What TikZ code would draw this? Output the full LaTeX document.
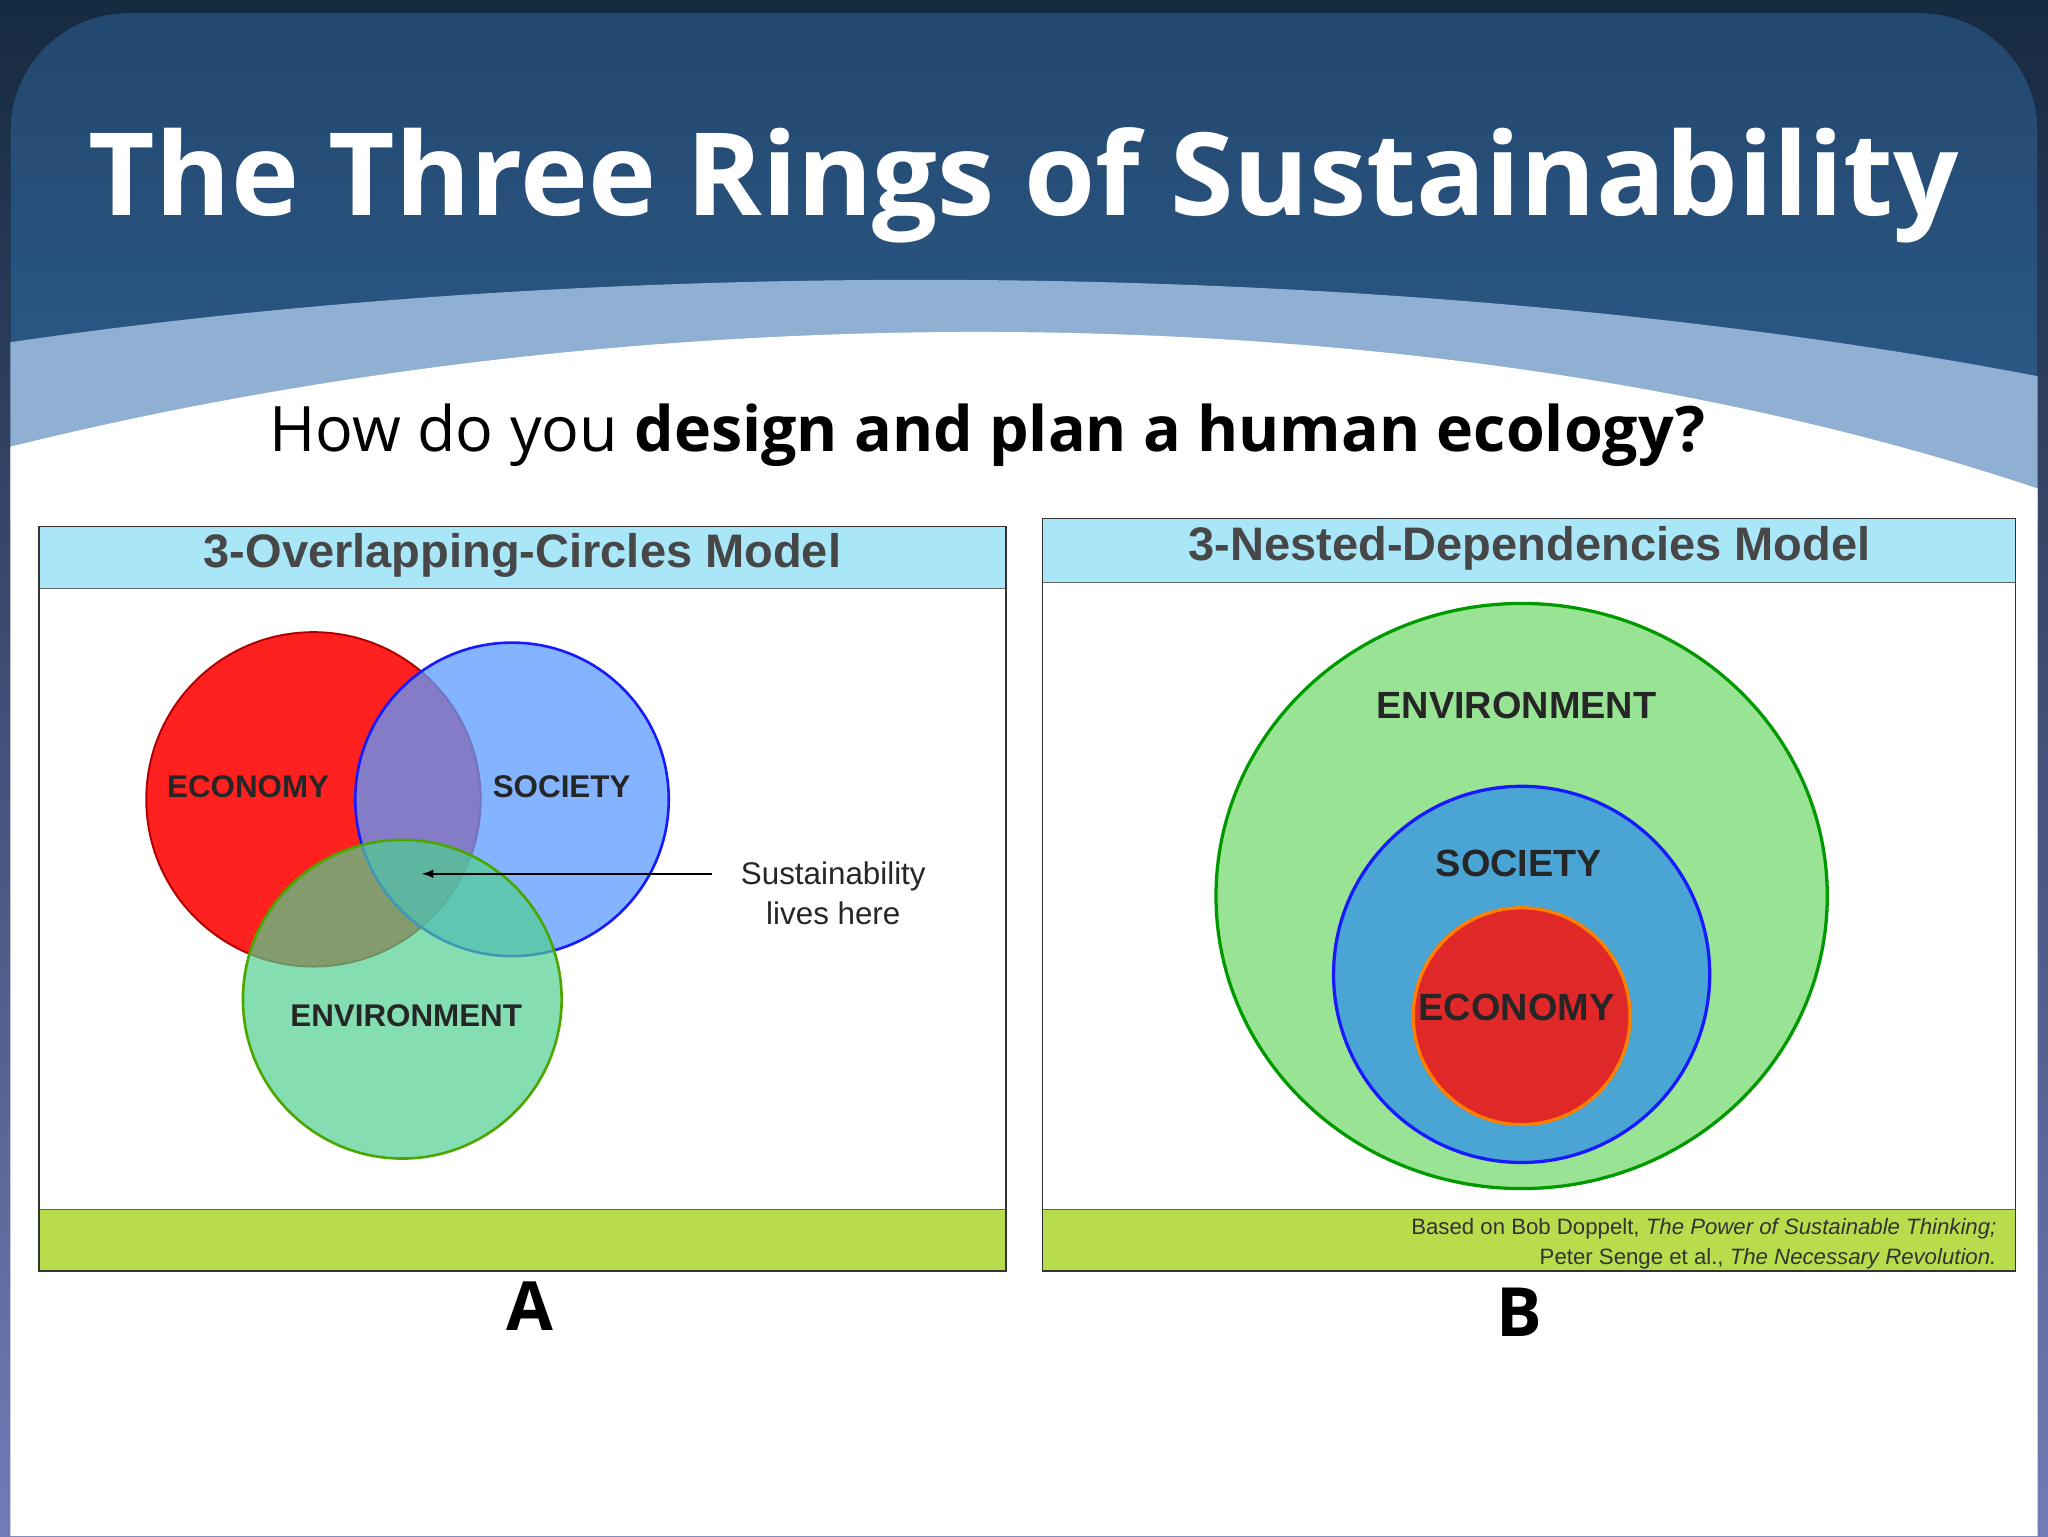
\documentclass[tikz,border=0pt]{standalone}
\usepackage{fontspec}
\setmainfont{Liberation Sans}
\newfontfamily\calfont{Open Sans}
\definecolor{navy}{HTML}{1B3450}
\definecolor{hdrtop}{HTML}{23476E}
\definecolor{hdrbot}{HTML}{2E5F8F}
\definecolor{swoosh}{HTML}{8FB0D2}
\definecolor{panhdr}{HTML}{A8E6F8}
\definecolor{panfoot}{HTML}{B8DC4C}
\definecolor{redA}{HTML}{FF2020}
\definecolor{blueA}{HTML}{5C9CFF}
\definecolor{greenA}{HTML}{50D090}
\definecolor{greenB}{HTML}{98E494}
\definecolor{blueB}{HTML}{4AA4D4}
\definecolor{redB}{HTML}{E02828}
\begin{document}
\begin{tikzpicture}[x=1pt,y=-1pt,
  lab/.style={font=\fontsize{24}{28}\selectfont\bfseries, text=black!85},
  hdr/.style={font=\fontsize{36}{40}\selectfont\bfseries, text=black!72},
  big/.style={font=\calfont\fontsize{52}{56}\selectfont\bfseries}]
\useasboundingbox (0,0) rectangle (1568,1176);
\fill[top color=navy!80!black, bottom color=navy!70!blue!60!white] (0,0) rectangle (1568,1176);
\fill[top color=hdrtop, bottom color=hdrbot, rounded corners=90pt] (8,10) rectangle (1560,420);
\fill[swoosh] (8,262) .. controls (500,190) and (1100,200) .. (1560,288) -- (1560,400) -- (8,400) -- cycle;
\fill[white] (8,1176) -- (8,342) .. controls (500,220) and (1100,220) .. (1560,374) -- (1560,1176) -- cycle;
\node[text=white, font=\calfont\fontsize{88}{92}\selectfont\bfseries] (title) at (784,142) {The Three Rings of Sustainability};
\node[font=\calfont\fontsize{48}{52}\selectfont] (sub) at (756,333) {How do you \textbf{design and plan a human ecology?}};
% Panel A
\fill[panhdr] (30,403) rectangle (770,450);
\fill[panfoot] (30,926) rectangle (770,973);
\draw[black!60] (30,450) -- (770,450) (30,926) -- (770,926);
\draw[black!80, line width=1.2pt] (30,403) rectangle (770,973);
\node[hdr] (ha) at (400,425) {3-Overlapping-Circles Model};
\draw[fill=redA, draw=red!70!black, line width=1.5pt] (240,612) circle (128);
\draw[fill=blueA, fill opacity=0.75, draw=blue!90, line width=2pt] (392,612) circle (120);
\draw[fill=greenA, fill opacity=0.7, draw=green!50!black!70!yellow, line width=2pt] (308,765) circle (122);
\node[lab] (eco) at (190,602) {ECONOMY};
\node[lab] (soc) at (430,602) {SOCIETY};
\node[lab] (env) at (311,778) {ENVIRONMENT};
\node[align=center, font=\fontsize{24}{31}\selectfont, text=black!85] (sus) at (638,684) {Sustainability\\lives here};
\coordinate (tip) at (323,669);
\coordinate (tail) at (545,669);
\draw[-latex, line width=2pt] (tail) -- (tip);
\node[big] (a) at (406,1000) {A};
% Panel B
\fill[panhdr] (798,397) rectangle (1543,446);
\fill[panfoot] (798,926) rectangle (1543,973);
\draw[black!60] (798,446) -- (1543,446) (798,926) -- (1543,926);
\draw[black!80, line width=1.2pt] (798,397) rectangle (1543,973);
\node[hdr] (hb) at (1171,420) {3-Nested-Dependencies Model};
\draw[fill=greenB, draw=green!60!black, line width=2.5pt] (1165,686) ellipse (234 and 224);
\draw[fill=blueB, draw=blue!90, line width=2.5pt] (1165,746) circle (144);
\draw[fill=redB, draw=orange, line width=2.5pt] (1165,778) circle (83);
\node[lab, font=\fontsize{29}{34}\selectfont\bfseries] (envb) at (1161,540) {ENVIRONMENT};
\node[lab, font=\fontsize{29}{34}\selectfont\bfseries] (socb) at (1163,661) {SOCIETY};
\node[lab, font=\fontsize{29}{34}\selectfont\bfseries] (ecob) at (1161,771) {ECONOMY};
\node[anchor=east, align=right, font=\fontsize{17}{23}\selectfont, text=black!80] (ref) at (1532,952) {Based on Bob Doppelt, \textit{The Power of Sustainable Thinking;}\\Peter Senge et al., \textit{The Necessary Revolution.}};
\node[big] (b) at (1163,1005) {B};
\end{tikzpicture}
\end{document}
